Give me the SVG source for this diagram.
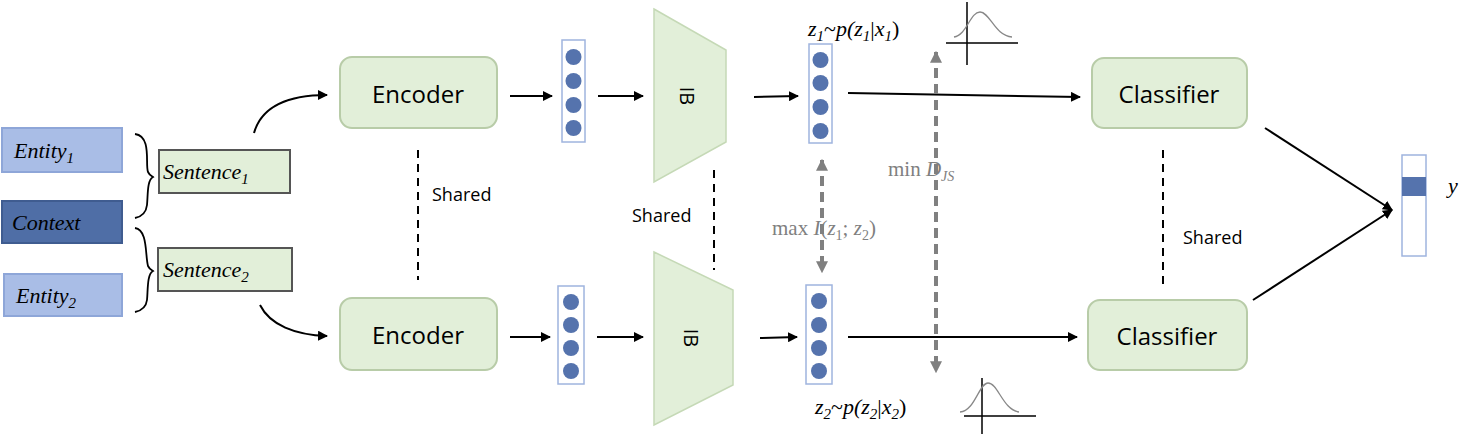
<svg xmlns="http://www.w3.org/2000/svg" width="1464" height="439" viewBox="0 0 1464 439">
<defs>
<marker id="ah" viewBox="0 0 10 10" refX="9" refY="5" markerWidth="5" markerHeight="5" orient="auto"><path d="M0,0L10,5L0,10z" fill="#000"/></marker>
<marker id="gh" viewBox="0 0 10 10" refX="9" refY="5" markerWidth="3" markerHeight="3" orient="auto-start-reverse"><path d="M0,0L10,5L0,10z" fill="#808080"/></marker>
<style>
.m{font-family:"Liberation Serif","DejaVu Serif",serif;font-style:italic;font-size:22px}
.sub{font-size:15px}
.lb{font-family:"Open Sans","Liberation Sans",sans-serif;fill:#000}
.gn{fill:#e2efd9;stroke:#b8cca8;stroke-width:2}
.vec{fill:#fff;stroke:#9fb4de;stroke-width:1.5}
.dot{fill:#5573ad}
.c{stroke:#000;stroke-width:2;fill:none}
.gd{stroke:#808080;stroke-width:4;stroke-dasharray:10 6;fill:none}
.gl{font-family:"Liberation Serif",serif;font-size:21px;fill:#808080}
</style>
</defs>
<g id="entity1"><rect x="2" y="128" width="120" height="44" fill="#a9bde6" stroke="#8ea6d8" stroke-width="2"/><text x="14" y="158" class="m">Entity<tspan class="sub" dy="5">1</tspan></text></g>
<g id="context"><rect x="2" y="201" width="120" height="42" fill="#4f6ea6" stroke="#3f5c90" stroke-width="2"/><text x="12" y="230" class="m">Context</text></g>
<g id="entity2"><rect x="4" y="274" width="118" height="42" fill="#a9bde6" stroke="#8ea6d8" stroke-width="2"/><text x="16" y="303" class="m">Entity<tspan class="sub" dy="5">2</tspan></text></g>
<g id="braces" class="c" style="stroke-width:1.8">
<path d="M135,134 C152,136 145,165 148,172 C150,176 152,176 153,177 C147,180 148,195 147,205 C146,214 140,217 135,218"/>
<path d="M135,228 C148,230 145,255 148,266 C150,270 152,270 153,271 C147,274 148,290 147,300 C146,308 140,311 135,312"/>
</g>
<g id="sentence1"><rect x="159" y="150" width="131" height="43" fill="#e2efd9" stroke="#555" stroke-width="2"/><text x="163" y="179" class="m">Sentence<tspan class="sub" dy="5">1</tspan></text></g>
<g id="sentence2"><rect x="158" y="248" width="134" height="43" fill="#e2efd9" stroke="#555" stroke-width="2"/><text x="163" y="277" class="m">Sentence<tspan class="sub" dy="5">2</tspan></text></g>
<g id="encoder1"><rect x="340" y="57" width="157" height="71" rx="12" class="gn"/><text x="418" y="103" text-anchor="middle" class="lb" font-size="24">Encoder</text></g>
<g id="encoder2"><rect x="340" y="298" width="157" height="72" rx="12" class="gn"/><text x="418" y="344" text-anchor="middle" class="lb" font-size="24">Encoder</text></g>
<g id="vec1"><rect x="562" y="40" width="23" height="102" class="vec"/><circle cx="573.5" cy="57" r="8" class="dot"/><circle cx="573.5" cy="81" r="8" class="dot"/><circle cx="573.5" cy="105" r="8" class="dot"/><circle cx="573.5" cy="128" r="8" class="dot"/></g>
<g id="vec2"><rect x="558" y="286" width="26" height="98" class="vec"/><circle cx="571" cy="302" r="8" class="dot"/><circle cx="571" cy="325" r="8" class="dot"/><circle cx="571" cy="348" r="8" class="dot"/><circle cx="571" cy="371" r="8" class="dot"/></g>
<g id="ib1"><polygon points="654,9 726,50 726,142 654,182" fill="#e2efd9" stroke="#c5d9b6" stroke-width="1.5"/><text x="680" y="96" class="lb" font-size="20" transform="rotate(90 680 96)" text-anchor="middle">IB</text></g>
<g id="ib2"><polygon points="654,252 733,290 733,385 654,425" fill="#e2efd9" stroke="#c5d9b6" stroke-width="1.5"/><text x="684" y="338" class="lb" font-size="20" transform="rotate(90 684 338)" text-anchor="middle">IB</text></g>
<g id="z1"><rect x="809" y="44" width="23" height="99" class="vec"/><circle cx="820.5" cy="60" r="8" class="dot"/><circle cx="820.5" cy="83" r="8" class="dot"/><circle cx="820.5" cy="107" r="8" class="dot"/><circle cx="820.5" cy="131" r="8" class="dot"/></g>
<g id="z2"><rect x="806" y="285" width="26" height="99" class="vec"/><circle cx="819" cy="301" r="8" class="dot"/><circle cx="819" cy="325" r="8" class="dot"/><circle cx="819" cy="348" r="8" class="dot"/><circle cx="819" cy="371" r="8" class="dot"/></g>
<g id="classifier1"><rect x="1092" y="58" width="155" height="70" rx="12" class="gn"/><text x="1169" y="103" text-anchor="middle" class="lb" font-size="24">Classifier</text></g>
<g id="classifier2"><rect x="1088" y="300" width="159" height="70" rx="12" class="gn"/><text x="1167" y="345" text-anchor="middle" class="lb" font-size="24">Classifier</text></g>
<g id="output"><rect x="1402" y="155" width="24" height="101" class="vec"/><rect x="1402" y="177" width="24" height="19" fill="#5573ad"/><text x="1448" y="193" class="m" font-size="18">y</text></g>
<g id="dists">
<text x="808" y="36" class="m">z<tspan class="sub" dy="5">1</tspan><tspan dy="-5" font-style="normal">~</tspan>p(z<tspan class="sub" dy="5">1</tspan><tspan dy="-5" font-style="normal">|</tspan>x<tspan class="sub" dy="5">1</tspan><tspan dy="-5" font-style="normal">)</tspan></text>
<path d="M946,43 H1018 M967,2 V65" stroke="#000" stroke-width="1.5"/>
<path d="M954,37 C967,35 970,12 980,12 C990,12 995,36 1012,37" stroke="#888" stroke-width="1.3" fill="none"/>
<text x="815" y="414" class="m">z<tspan class="sub" dy="5">2</tspan><tspan dy="-5" font-style="normal">~</tspan>p(z<tspan class="sub" dy="5">2</tspan><tspan dy="-5" font-style="normal">|</tspan>x<tspan class="sub" dy="5">2</tspan><tspan dy="-5" font-style="normal">)</tspan></text>
<path d="M964,416 H1036 M982,378 V434" stroke="#000" stroke-width="1.5"/>
<path d="M960,412 C975,411 979,383 988,383 C998,383 1003,410 1019,412" stroke="#888" stroke-width="1.3" fill="none"/>
</g>
<g id="labels">
<text x="432" y="201" class="lb" font-size="18">Shared</text>
<text x="632" y="222" class="lb" font-size="18">Shared</text>
<text x="1183" y="244" class="lb" font-size="18">Shared</text>
<text x="888" y="176" class="gl">min <tspan font-style="italic">D<tspan font-size="14" dy="5">JS</tspan></tspan></text>
<text x="772" y="235" class="gl">max <tspan font-style="italic">I</tspan>(<tspan font-style="italic">z</tspan><tspan font-size="14" dy="5">1</tspan><tspan dy="-5">; </tspan><tspan font-style="italic">z</tspan><tspan font-size="14" dy="5">2</tspan><tspan dy="-5">)</tspan></text>
</g>
<g id="connectors">
<path d="M254,133 C262,105 290,95 327,95" class="c" marker-end="url(#ah)"/>
<path d="M260,305 C270,325 295,335 327,336" class="c" marker-end="url(#ah)"/>
<path d="M510,96 H552" class="c" marker-end="url(#ah)"/>
<path d="M598,96 H643" class="c" marker-end="url(#ah)"/>
<path d="M754,97 L798,96" class="c" marker-end="url(#ah)"/>
<path d="M848,93 L1080,97" class="c" marker-end="url(#ah)"/>
<path d="M510,337 H550" class="c" marker-end="url(#ah)"/>
<path d="M597,337 H643" class="c" marker-end="url(#ah)"/>
<path d="M760,338 L797,337" class="c" marker-end="url(#ah)"/>
<path d="M848,337 L1077,337" class="c" marker-end="url(#ah)"/>
<path d="M1265,128 L1392,210" class="c" marker-end="url(#ah)"/>
<path d="M1253,300 L1392,210" class="c" marker-end="url(#ah)"/>
<path d="M418,150 V280 M714,170 V270 M1163,150 V285" stroke="#000" stroke-width="2" stroke-dasharray="8 6"/>
<path d="M822,160 V272" class="gd" marker-start="url(#gh)" marker-end="url(#gh)"/>
<path d="M936,52 V372" class="gd" marker-start="url(#gh)" marker-end="url(#gh)"/>
</g>
</svg>
